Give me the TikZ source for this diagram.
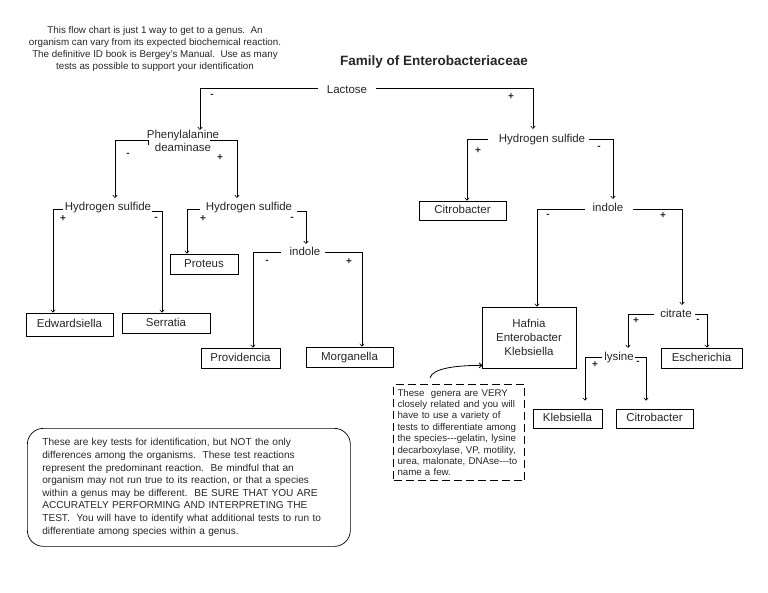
\documentclass[tikz,border=0pt]{standalone}
\usepackage{fontspec}
\setmainfont{Liberation Sans}
\usetikzlibrary{arrows.meta}
\definecolor{ink}{gray}{0.15}
\begin{document}
\begin{tikzpicture}[x=1pt,y=-1pt, every node/.style={text=ink},
  lbl/.style={inner sep=0pt, text height=8.3pt, text depth=2.3pt, font=\fontsize{11.5}{14}\selectfont},
  box/.style={draw=black, line width=0.7pt, inner sep=0pt, font=\fontsize{11.5}{14}\selectfont},
  bx/.style={box, text height=8.3pt, text depth=2.3pt},
  sign/.style={inner sep=0pt, font=\fontsize{10}{12}\selectfont\bfseries},
  conn/.style={line width=0.6pt, -{Straight Barb[length=2.5pt,width=4.5pt]}},
]
\useasboundingbox (0,0) rectangle (768,592);

% header texts
\node[align=center, inner sep=0pt, font=\fontsize{9.8}{11.7}\selectfont] (note) at (155,49)
  {This flow chart is just 1 way to get to a genus.\ \ An\\organism can vary from its expected biochemical reaction.\\The definitive ID book is Bergey's Manual.\ \ Use as many\\tests as possible to support your identification};
\node[inner sep=0pt, font=\fontsize{13.5}{16}\selectfont\bfseries] (title) at (434,62) {Family of Enterobacteriaceae};

% test labels
\node[lbl] (lac) at (347,90) {Lactose};
\node[inner sep=0pt, align=center, font=\fontsize{11.5}{13}\selectfont] (phe) at (183,141) {Phenylalanine\\deaminase};
\node[lbl] (h2sL) at (108,207) {Hydrogen sulfide};
\node[lbl] (h2sM) at (249,207) {Hydrogen sulfide};
\node[lbl] (indM) at (305,252) {indole};
\node[lbl] (h2sR) at (542,139) {Hydrogen sulfide};
\node[lbl] (indR) at (608,208) {indole};
\node[lbl] (citr) at (676,314) {citrate};
\node[lbl] (lys) at (619,357) {lysine};

% result boxes
\node[bx, minimum width=87pt, minimum height=23pt] (edw) at (69.5,324.5) {Edwardsiella};
\node[bx, minimum width=88pt, minimum height=20pt] (ser) at (166,323) {Serratia};
\node[bx, minimum width=68pt, minimum height=20pt] (pro) at (204,264) {Proteus};
\node[bx, minimum width=79pt, minimum height=20pt] (prov) at (240.5,358) {Providencia};
\node[bx, minimum width=87pt, minimum height=20pt] (morg) at (349.5,357) {Morganella};
\node[bx, minimum width=87pt, minimum height=19pt] (cit) at (462.5,210.5) {Citrobacter};
\node[box, minimum width=94pt, minimum height=61pt, align=center] (haf) at (529,337.5) {Hafnia\\Enterobacter\\Klebsiella};
\node[bx, minimum width=81pt, minimum height=20pt] (esch) at (701.5,358) {Escherichia};
\node[bx, minimum width=69pt, minimum height=19pt] (kleb) at (567.5,418.5) {Klebsiella};
\node[bx, minimum width=77pt, minimum height=19pt] (cit2) at (654.5,418.5) {Citrobacter};

% signs
\node[sign] (s1) at (212,96) {-};
\node[sign] (s2) at (511,97) {+};
\node[sign] (s3) at (128,155) {-};
\node[sign] (s4) at (220,158) {+};
\node[sign] (s5) at (63,219) {+};
\node[sign] (s6) at (156,219) {-};
\node[sign] (s7) at (203,219) {+};
\node[sign] (s8) at (292,219) {-};
\node[sign] (s9) at (267,262) {-};
\node[sign] (s10) at (349,262) {+};
\node[sign] (s11) at (478,151) {+};
\node[sign] (s12) at (599,148) {-};
\node[sign] (s13) at (548,216) {-};
\node[sign] (s14) at (663,216) {+};
\node[sign] (s15) at (636,321) {+};
\node[sign] (s16) at (698,321) {-};
\node[sign] (s17) at (595,365) {+};
\node[sign] (s18) at (638,363) {-};

% connectors
\draw[conn] ([shift={(-29,-2)}]lac.center) -| ([shift={(17,-11)}]phe.center);
\draw[conn] ([shift={(29,-2)}]lac.center) -| ([shift={(-9,-10)}]h2sR.center);
\draw[conn] ([shift={(-35,4)}]phe.center) -- ++(0,-5) -| ([shift={(7,-9)}]h2sL.center);
\draw[conn] ([shift={(27,-1)}]phe.center) -| ([shift={(-12,-9)}]h2sM.center);
\draw[conn] ([shift={(-45,2)}]h2sL.center) -| ([xshift=-16.5pt]edw.north);
\draw[conn] ([shift={(44,4)}]h2sL.center) -| ([xshift=-4pt]ser.north);
\draw[conn] ([shift={(-49,2)}]h2sM.center) -| ([xshift=-17pt]pro.north);
\draw[conn] ([shift={(48,4)}]h2sM.center) -| ([shift={(1,-8)}]indM.center);
\draw[conn] ([shift={(-24,0)}]indM.center) -| ([xshift=12.5pt]prov.north);
\draw[conn] ([shift={(20,0)}]indM.center) -| ([xshift=12.5pt]morg.north);
\draw[conn] ([shift={(-54,0)}]h2sR.center) -| ([xshift=4.5pt]cit.north);
\draw[conn] ([shift={(47,0)}]h2sR.center) -| ([shift={(5,-9)}]indR.center);
\draw[conn] ([shift={(-23,1)}]indR.center) -| ([xshift=8pt]haf.north);
\draw[conn] ([shift={(25,1)}]indR.center) -| ([shift={(6,-9)}]citr.center);
\draw[conn] ([shift={(-22,0)}]citr.center) -| ([shift={(9,-9)}]lys.center);
\draw[conn] ([shift={(19,0)}]citr.center) -| ([xshift=5.5pt]esch.north);
\draw[conn] ([shift={(-17,0)}]lys.center) -| ([shift={(17.5,-8)}]kleb.north);
\draw[conn] ([shift={(16,0)}]lys.center) -| ([shift={(-8.5,-8)}]cit2.north);

% dashed note
\node[draw=black, dash pattern=on 8pt off 4pt, line width=1pt, anchor=north west, text width=123pt,
  inner xsep=4pt, inner ysep=2pt, minimum height=96pt, align=left,
  font=\fontsize{9.7}{11.4}\selectfont] (vnote) at (393,384)
  {These\ \ genera are VERY\\closely related and you will\\have to use a variety of\\tests to differentiate among\\the species-{}-{}-gelatin, lysine\\decarboxylase, VP, motility,\\urea, malonate, DNAse-{}-{}-to\\name a few.};
\draw[line width=0.8pt, -{Straight Barb[length=3pt,width=5pt]}] ([shift={(37,-6)}]vnote.north west) .. controls +(2,-10) and +(-25,0) .. ([shift={(1,-3)}]haf.south west);

% key note
\node[draw=black, line width=0.7pt, rounded corners=16pt, anchor=north west, text width=293pt,
  inner xsep=15pt, minimum height=118pt, align=left,
  font=\fontsize{10.1}{12.6}\selectfont] (key) at (27,428)
  {These are key tests for identification, but NOT the only\\differences among the organisms.\ \ These test reactions\\represent the predominant reaction.\ \ Be mindful that an\\organism may not run true to its reaction, or that a species\\within a genus may be different.\ \ BE SURE THAT YOU ARE\\ACCURATELY PERFORMING AND INTERPRETING THE\\TEST.\ \ You will have to identify what additional tests to run to\\differentiate among species within a genus.};
\end{tikzpicture}
\end{document}
